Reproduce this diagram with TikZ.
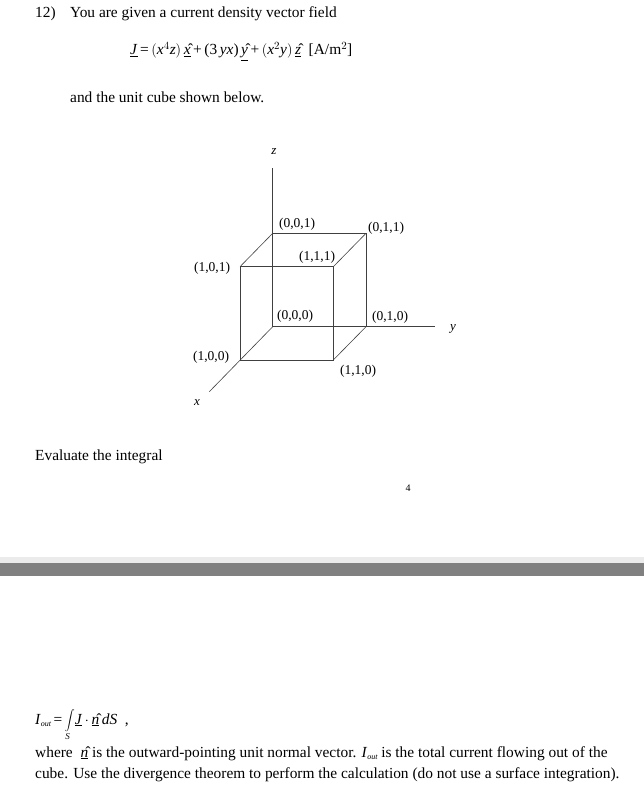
\documentclass[tikz,border=0pt]{standalone}
\usepackage{fontspec}
\setmainfont{Liberation Serif}
\newcommand{\ul}[1]{\underline{#1}}
\newcommand{\hu}[1]{\underline{\smash{\^{#1}}\vphantom{#1}}}
\newcommand{\vit}[1]{\textit{#1}}
\begin{document}
\begin{tikzpicture}[x=1pt,y=-1pt,
  txt/.style={anchor=base west,inner sep=0,font=\fontsize{15.4}{18}\selectfont},
  lab/.style={inner sep=0,font=\fontsize{13.5}{15}\selectfont},
  edge/.style={draw=black!75,line width=0.6pt}]
\useasboundingbox (0,0) rectangle (644,792);
\node[txt] (num) at (35,18) {12)};
\node[txt] (l1) at (70,18) {You are given a current density vector field};
\node[txt] (eq) at (130,55) {\ul{\vit{J}}\,=\,\big(\vit{x}$^{\scriptstyle 4}$\vit{z}\big)\,\hu{\vit{x}}\,+\,(3\,\vit{yx})\,\hu{\vit{y}}\,+\,\big(\vit{x}$^{\scriptstyle 2}$\vit{y}\big)\,\hu{\vit{z}}\ \ [A/m$^{\scriptstyle 2}$]};
\node[txt] (l2) at (70,102) {and the unit cube shown below.};
% cube
\coordinate (O) at (272.7,326.7);
\coordinate (Z) at (272.7,168.3);
\coordinate (A001) at (272.7,233.3);
\coordinate (A011) at (366,233.3);
\coordinate (A010) at (366,326.7);
\coordinate (Y) at (435,326.7);
\coordinate (A101) at (240,266.7);
\coordinate (A111) at (333.3,266.7);
\coordinate (A100) at (240,360);
\coordinate (A110) at (333.3,360);
\coordinate (X) at (209.3,391.7);
\draw[edge] (Z) -- (O) -- (Y);
\draw[edge] (O) -- (X);
\draw[edge] (A001) -- (A011) -- (A010);
\draw[edge] (A101) -- (A111) -- (A110) -- (A100) -- cycle;
\draw[edge] (A001) -- (A101);
\draw[edge] (A011) -- (A111);
\draw[edge] (A010) -- (A110);
\node[lab,font=\itshape\fontsize{13}{14}\selectfont] (zl) at (274,152) {z};
\node[lab,font=\itshape\fontsize{13}{14}\selectfont] (yl) at (453,329) {y};
\node[lab,font=\itshape\fontsize{13}{14}\selectfont] (xl) at (197,403) {x};
\node[lab] (n001) at (297,224) {(0,0,1)};
\node[lab] (n011) at (386,228) {(0,1,1)};
\node[lab] (n111) at (317,257) {(1,1,1)};
\node[lab] (n101) at (212,268) {(1,0,1)};
\node[lab] (n000) at (295,316) {(0,0,0)};
\node[lab] (n010) at (390,317) {(0,1,0)};
\node[lab] (n100) at (211,357) {(1,0,0)};
\node[lab] (n110) at (358,371) {(1,1,0)};
\node[txt] (ev) at (35,460) {Evaluate the integral};
\node[lab,font=\fontsize{10}{12}\selectfont] (pg) at (408,488) {4};
% band
\fill[black!8] (0,557) rectangle (644,563);
\fill[black!50] (0,563) rectangle (644,576);
\node[txt] (int) at (35,724) {\vit{I}\raisebox{-2pt}{\fontsize{8}{9}\selectfont\itshape out}\,=\,$\displaystyle\int\limits_{\textit{\fontsize{9}{9}\selectfont S}}$\ul{\vit{J}}\,$\cdot$\,\hu{\vit{n}}\,\vit{dS}\ \ ,};
\node[txt] (w1) at (35,757) {where\ \ \hu{\vit{n}} is the outward-pointing unit normal vector. \vit{I}\raisebox{-2pt}{\fontsize{8}{9}\selectfont\itshape out} is the total current flowing out of the};
\node[txt] (w2) at (35,778) {cube. Use the divergence theorem to perform the calculation (do not use a surface integration).};
\end{tikzpicture}
\end{document}
